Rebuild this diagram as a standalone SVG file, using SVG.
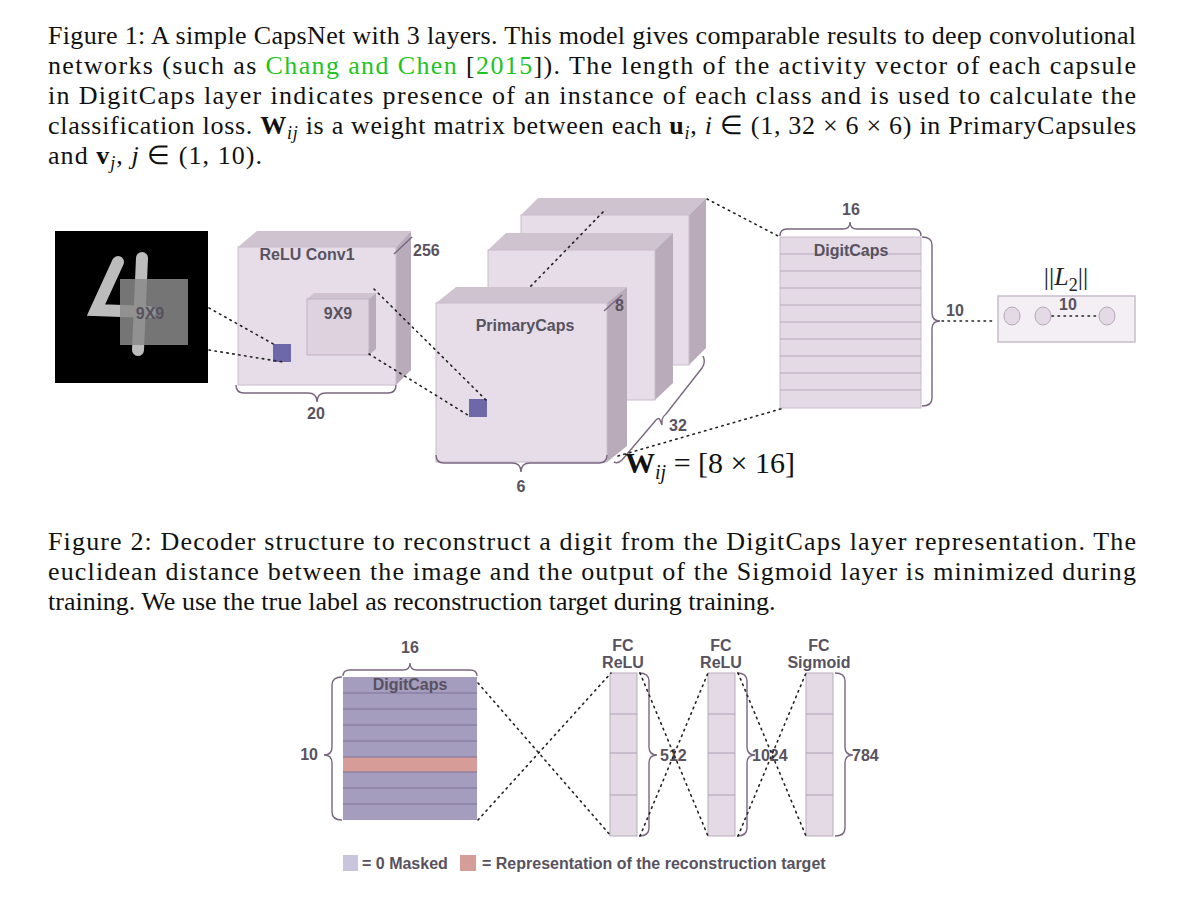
<svg xmlns="http://www.w3.org/2000/svg" width="1200" height="900" viewBox="0 0 1200 900">
<style>
.cap{font-family:"Liberation Serif",serif;font-size:26px;fill:#111}
.lb{font-family:"Liberation Sans",Arial,sans-serif;font-weight:bold;font-size:16px;fill:#585260}
.front{fill:#e6dde8;stroke:#c9bccb;stroke-width:1}
.top{fill:#cfc3d0}
.side{fill:#b9abba}
.dot{fill:none;stroke:#222;stroke-width:1.6;stroke-dasharray:1.5 4.5;stroke-linecap:round}
.br{fill:none;stroke:#7a6680;stroke-width:1.4}
.row{stroke:#b7a8ba;stroke-width:1.2}
.prow{stroke:#7d7398;stroke-width:1.2}
.g{fill:#22c322}
</style>
<rect width="1200" height="900" fill="#fff"/>
<g id="caption1">
<text class="cap" x="48" y="44" textLength="1088" lengthAdjust="spacing">Figure 1: A simple CapsNet with 3 layers. This model gives comparable results to deep convolutional</text>
<text class="cap" x="48" y="74" textLength="1088" lengthAdjust="spacing">networks (such as <tspan class="g">Chang and Chen</tspan> [<tspan class="g">2015</tspan>]).  The length of the activity vector of each capsule</text>
<text class="cap" x="48" y="104" textLength="1088" lengthAdjust="spacing">in DigitCaps layer indicates presence of an instance of each class and is used to calculate the</text>
<text class="cap" x="48" y="134" textLength="1088" lengthAdjust="spacing">classification loss. <tspan font-weight="bold">W</tspan><tspan font-style="italic" font-size="18" dy="5">ij</tspan><tspan dy="-5"> is a weight matrix between each </tspan><tspan font-weight="bold">u</tspan><tspan font-style="italic" font-size="18" dy="5">i</tspan><tspan dy="-5">, </tspan><tspan font-style="italic">i</tspan> ∈ (1, 32 × 6 × 6) in PrimaryCapsules</text>
<text class="cap" x="48" y="164" textLength="214" lengthAdjust="spacing">and <tspan font-weight="bold">v</tspan><tspan font-style="italic" font-size="18" dy="5">j</tspan><tspan dy="-5">, </tspan><tspan font-style="italic">j</tspan> ∈ (1, 10).</text>
</g>
<g id="input">
<rect x="55" y="231" width="153" height="152" fill="#000"/>
<path d="M118 262 L96 310 L150 312 M142 258 L138 350" stroke="#ddd" stroke-width="12" fill="none" stroke-linecap="round" opacity="0.85"/>
<rect x="120" y="279" width="68" height="66" fill="#8a8a8a" opacity="0.85"/>
<text class="lb" x="150" y="319" text-anchor="middle" font-size="17">9X9</text>
</g>
<g id="conv1">
<polygon class="top" points="238,247 257,231 411,231 396,247"/>
<polygon class="side" points="396,247 411,231 411,370 396,385"/>
<rect class="front" x="238" y="247" width="158" height="138"/>
<text class="lb" x="307" y="260" text-anchor="middle" font-size="17">ReLU Conv1</text>
<line x1="394" y1="254" x2="412" y2="237" class="br"/>
<text class="lb" x="413" y="256">256</text>
<polygon class="top" points="307,299 314,293 376,293 369,299"/>
<polygon class="side" points="369,299 376,293 376,349 369,355"/>
<rect x="307" y="299" width="62" height="56" fill="#ddd2de" stroke="#bfb1c2"/>
<text class="lb" x="338" y="319" text-anchor="middle">9X9</text>
<rect x="273" y="344" width="18" height="18" fill="#6e68a8"/>
<path class="br" d="M236 385 q0 8 8 8 h64 q9 0 9 9 q0-9 9-9 h62 q8 0 8-8"/>
<text class="lb" x="316" y="419" text-anchor="middle">20</text>
</g>
<g id="primarycaps">
<polygon class="top" points="521,215 538,198 706,198 689,215"/>
<polygon class="side" points="689,215 706,198 706,348 689,365"/>
<rect class="front" x="521" y="215" width="168" height="150"/>
<polygon class="top" points="488,250 506,233 673,233 655,250"/>
<polygon class="side" points="655,250 673,233 673,383 655,400"/>
<rect class="front" x="488" y="250" width="167" height="150"/>
<polygon class="top" points="436,303 456,287 627,287 607,303"/>
<polygon class="side" points="607,303 627,287 627,446 607,462"/>
<rect class="front" x="436" y="303" width="171" height="159"/>
<text class="lb" x="525" y="331" text-anchor="middle" font-size="18">PrimaryCaps</text>
<line x1="604" y1="311" x2="622" y2="295" class="br"/>
<text class="lb" x="615" y="311">8</text>
<rect x="469" y="399" width="18" height="18" fill="#6e68a8"/>
<path class="br" d="M436 455 q0 8 8 8 h68 q9 0 9 9 q0-9 9-9 h69 q8 0 8-8"/>
<text class="lb" x="521" y="492" text-anchor="middle">6</text>
<path class="br" d="M614 462 q4 2 8-2 l34-40 q3-3 4 0 l2 5 l0-5 q1-4 4-6 l36-46 q4-6 1-12"/>
<text class="lb" x="678" y="431" text-anchor="middle">32</text>
</g>
<g id="digitcaps">
<rect x="780" y="237" width="141" height="171" fill="#e4dae6" stroke="#c9bccb"/>
<g class="row">
<line x1="780" y1="254" x2="921" y2="254"/><line x1="780" y1="271" x2="921" y2="271"/><line x1="780" y1="288" x2="921" y2="288"/><line x1="780" y1="305" x2="921" y2="305"/><line x1="780" y1="322" x2="921" y2="322"/><line x1="780" y1="339" x2="921" y2="339"/><line x1="780" y1="356" x2="921" y2="356"/><line x1="780" y1="373" x2="921" y2="373"/><line x1="780" y1="390" x2="921" y2="390"/>
</g>
<text class="lb" x="851" y="256" text-anchor="middle">DigitCaps</text>
<path class="br" d="M780 236 q0-7 7-7 h56 q7 0 7-7 q0 7 7 7 h57 q7 0 7 7"/>
<text class="lb" x="851" y="215" text-anchor="middle" font-size="15">16</text>
<path class="br" d="M922 237 q10 0 10 8 v68 q0 8 8 8 q-8 0-8 8 v69 q0 8-10 8"/>
<text class="lb" x="955" y="316" text-anchor="middle" font-size="17">10</text>
</g>
<g id="l2">
<text x="1066" y="285" text-anchor="middle" font-family="Liberation Serif,serif" font-size="26" fill="#222">||<tspan font-style="italic">L</tspan><tspan font-size="18" dy="6">2</tspan><tspan dy="-6">||</tspan></text>
<rect x="998" y="296" width="137" height="46" fill="#f3eff4" stroke="#c9bccb" stroke-width="1.5"/>
<ellipse cx="1012" cy="316" rx="8" ry="9" fill="#e4dae6" stroke="#b5a5b8"/>
<ellipse cx="1043" cy="316" rx="8" ry="9" fill="#e4dae6" stroke="#b5a5b8"/>
<ellipse cx="1107" cy="316" rx="8" ry="9" fill="#e4dae6" stroke="#b5a5b8"/>
<text class="lb" x="1068" y="310" text-anchor="middle" font-size="14">10</text>
</g>
<text id="wij" x="625" y="473" font-family="Liberation Serif,serif" font-size="30" fill="#111"><tspan font-weight="bold">W</tspan><tspan font-style="italic" font-size="20" dy="6">ij</tspan><tspan dy="-6"> = [8 × 16]</tspan></text>
<g id="connectors1">
<line class="dot" x1="209" y1="308" x2="277" y2="346"/>
<line class="dot" x1="209" y1="350" x2="283" y2="362"/>
<line class="dot" x1="374" y1="289" x2="486" y2="400"/>
<line class="dot" x1="369" y1="354" x2="471" y2="417"/>
<line class="dot" x1="603" y1="212" x2="530" y2="287"/>
<line class="dot" x1="707" y1="199" x2="780" y2="237"/>
<line class="dot" x1="618" y1="456" x2="784" y2="408"/>
<line class="dot" x1="942" y1="321" x2="995" y2="321"/>
<line class="dot" x1="1052" y1="316" x2="1098" y2="316"/>
</g>
<g id="caption2">
<text class="cap" x="48" y="550" textLength="1088" lengthAdjust="spacing">Figure 2: Decoder structure to reconstruct a digit from the DigitCaps layer representation.  The</text>
<text class="cap" x="48" y="580" textLength="1088" lengthAdjust="spacing">euclidean distance between the image and the output of the Sigmoid layer is minimized during</text>
<text class="cap" x="48" y="610">training. We use the true label as reconstruction target during training.</text>
</g>
<g id="digitcaps2">
<rect x="343" y="677" width="134" height="143" fill="#a59dbd"/>
<rect x="343" y="757" width="134" height="15" fill="#d69c98"/>
<g class="prow">
<line x1="343" y1="693" x2="477" y2="693"/><line x1="343" y1="709" x2="477" y2="709"/><line x1="343" y1="725" x2="477" y2="725"/><line x1="343" y1="741" x2="477" y2="741"/><line x1="343" y1="757" x2="477" y2="757"/><line x1="343" y1="772" x2="477" y2="772"/><line x1="343" y1="788" x2="477" y2="788"/><line x1="343" y1="804" x2="477" y2="804"/>
</g>
<text class="lb" x="410" y="690" text-anchor="middle" font-size="15" fill="#4e4860">DigitCaps</text>
<path class="br" d="M343 676 q0-6 7-6 h53 q7 0 7-7 q0 7 7 7 h53 q7 0 7 6"/>
<text class="lb" x="410" y="653" text-anchor="middle" font-size="15">16</text>
<path class="br" d="M342 677 q-10 0-10 8 v62 q0 8-8 8 q8 0 8 8 v49 q0 8 10 8"/>
<text class="lb" x="318" y="760" text-anchor="end" font-size="15">10</text>
</g>
<g id="fc1">
<rect x="610" y="673" width="27" height="163" fill="#e4dae6" stroke="#b9aabc"/>
<g class="row"><line x1="610" y1="714" x2="637" y2="714"/><line x1="610" y1="753" x2="637" y2="753"/><line x1="610" y1="795" x2="637" y2="795"/></g>
<text class="lb" x="623" y="651" text-anchor="middle" font-size="15">FC</text>
<text class="lb" x="623" y="668" text-anchor="middle" font-size="15">ReLU</text>
<path class="br" d="M639 673 q10 0 10 8 v66 q0 8 8 8 q-8 0-8 8 v65 q0 8-10 8"/>
<text class="lb" x="660" y="761" font-size="15">512</text>
</g>
<g id="fc2">
<rect x="708" y="673" width="27" height="163" fill="#e4dae6" stroke="#b9aabc"/>
<g class="row"><line x1="708" y1="714" x2="735" y2="714"/><line x1="708" y1="753" x2="735" y2="753"/><line x1="708" y1="795" x2="735" y2="795"/></g>
<text class="lb" x="721" y="651" text-anchor="middle" font-size="15">FC</text>
<text class="lb" x="721" y="668" text-anchor="middle" font-size="15">ReLU</text>
<path class="br" d="M737 673 q10 0 10 8 v66 q0 8 8 8 q-8 0-8 8 v65 q0 8-10 8"/>
<text class="lb" x="752" y="761" font-size="15">1024</text>
</g>
<g id="fc3">
<rect x="806" y="673" width="27" height="163" fill="#e4dae6" stroke="#b9aabc"/>
<g class="row"><line x1="806" y1="714" x2="833" y2="714"/><line x1="806" y1="753" x2="833" y2="753"/><line x1="806" y1="795" x2="833" y2="795"/></g>
<text class="lb" x="819" y="651" text-anchor="middle" font-size="15">FC</text>
<text class="lb" x="819" y="668" text-anchor="middle" font-size="15">Sigmoid</text>
<path class="br" d="M835 673 q10 0 10 8 v66 q0 8 8 8 q-8 0-8 8 v65 q0 8-10 8"/>
<text class="lb" x="852" y="761" font-size="15">784</text>
</g>
<g id="connectors2">
<line class="dot" x1="478" y1="683" x2="611" y2="836"/>
<line class="dot" x1="478" y1="820" x2="611" y2="673"/>
<line class="dot" x1="640" y1="673" x2="708" y2="836"/>
<line class="dot" x1="640" y1="836" x2="708" y2="673"/>
<line class="dot" x1="738" y1="673" x2="806" y2="836"/>
<line class="dot" x1="738" y1="836" x2="806" y2="673"/>
</g>
<g id="legend">
<rect x="343" y="855" width="15" height="16" fill="#c9c5dd"/>
<text class="lb" x="362" y="869" font-size="14">= 0 Masked</text>
<rect x="460" y="855" width="16" height="16" fill="#d69c98"/>
<text class="lb" x="482" y="869" font-size="14">= Representation of the reconstruction target</text>
</g>
</svg>
